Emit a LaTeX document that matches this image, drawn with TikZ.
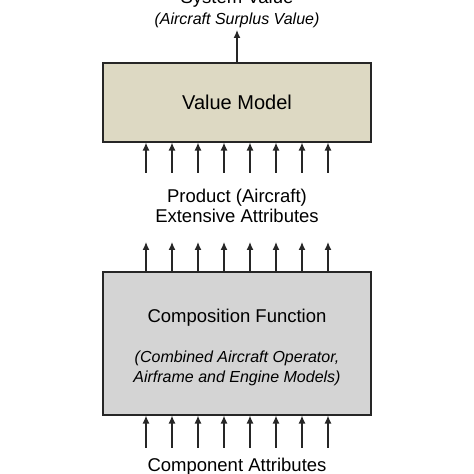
\documentclass[tikz,border=0pt]{standalone}
\usepackage{fontspec}
\setmainfont{Liberation Sans}
\usepackage{xcolor}
\usetikzlibrary{calc,positioning,arrows.meta}
\definecolor{valuefill}{HTML}{DDD9C3}
\definecolor{compfill}{HTML}{D4D4D4}

\begin{document}
\begin{tikzpicture}[
	%	style def
	x=1pt, y=1pt,
	model box/.style={draw=black!85, line width=1.2pt, minimum width=268pt, inner sep=0pt},
	flow line/.style={draw=black!85, line width=1.3pt, -{Latex[length=8pt,width=7pt]}},
	label text/.style={anchor=base, inner sep=0pt, font=\fontsize{18.5}{20}\selectfont},
	note text/.style={anchor=base, inner sep=0pt, font=\fontsize{16}{18}\selectfont\itshape},
	every node/.style={color=black}
	]
	\useasboundingbox (0,0) rectangle (474,474);
	\clip (0,0) rectangle (474,474);

	% the two models
	\node[model box, fill=valuefill, minimum height=79pt, font=\fontsize{20}{22}\selectfont] (vm) at (237,371.5) {Value Model};
	\node[model box, fill=compfill, minimum height=143pt] (cf) at (237,130.5) {};

	% texts
	\node[label text] (sysval) at (237,470) {System Value};
	\node[note text] (surplus) at (237,449) {(Aircraft Surplus Value)};
	\node[label text] (prod) at (237,271) {Product (Aircraft)};
	\node[label text] (ext) at (237,251) {Extensive Attributes};
	\node[label text] (cftitle) at (237,151) {Composition Function};
	\node[note text] (cfnote1) at (237,111) {(Combined Aircraft Operator,};
	\node[note text] (cfnote2) at (237,91) {Airframe and Engine Models)};
	\node[label text] (comp) at (237,2) {Component Attributes};

	% system value output
	\coordinate (vout) at (237,444);
	\draw[flow line] (vm.north) -- (vout);

	% eight attribute lines per level
	\foreach \i in {0,...,7} {
		\coordinate (vin\i) at ({146+26*\i},301);
		\coordinate (cout\i) at ({146+26*\i},232);
		\coordinate (cin\i) at ({146+26*\i},26);
		\draw[flow line] (vin\i) -- (vin\i |- vm.south);
		\draw[flow line] (cout\i |- cf.north) -- (cout\i);
		\draw[flow line] (cin\i) -- (cin\i |- cf.south);
	}

\end{tikzpicture}
\end{document}
